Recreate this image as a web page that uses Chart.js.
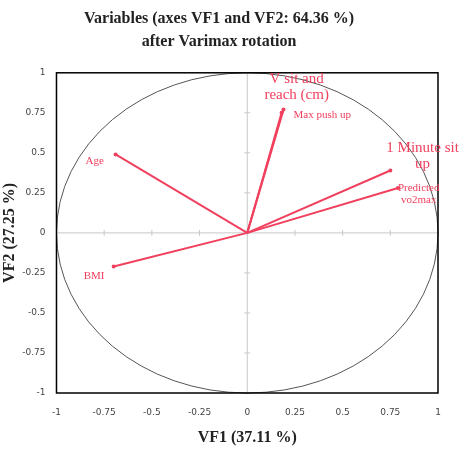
<!DOCTYPE html><html><head><script src="https://cdn.jsdelivr.net/npm/chart.js@4"></script>
<style>body{margin:0;background:#fff}#w{width:474px;height:457px}</style></head><body><div id="w"><canvas id="c"></canvas></div>
<script>
const variables=["Age","BMI","Max push up","V sit and reach (cm)","1 Minute sit up","Predicted vo2max"];
const vf1=[-0.69,-0.70,0.19,0.18,0.75,0.79];
const vf2=[0.49,-0.21,0.77,0.75,0.39,0.28];
const tickVals=[-1,-0.75,-0.5,-0.25,0,0.25,0.5,0.75,1];
const labelDefs=[
 {i:0,lines:["Age"],dx:-30,dy:10,size:11},
 {i:1,lines:["BMI"],dx:-30,dy:12,size:11},
 {i:2,lines:["Max push up"],dx:10,dy:8,size:11},
 {i:3,lines:["V sit and","reach (cm)"],dx:-12,dy:-30,size:15},
 {i:4,lines:["1 Minute sit","up"],dx:-4,dy:-18,size:15},
 {i:5,lines:["Predicted","vo2max"],dx:0,dy:3,size:11}
];
const col='#f0405e';
const datasets=variables.map((v,i)=>({label:v,data:[{x:0,y:0},{x:vf1[i],y:vf2[i]}],showLine:true,borderColor:col,borderWidth:2,pointRadius:[0,2],pointBackgroundColor:col,pointBorderWidth:0}));
const deco={id:'deco',beforeDatasetsDraw(ch){const {ctx,scales:{x,y}}=ch;ctx.save();
 const cx=x.getPixelForValue(0),cy=y.getPixelForValue(0);
 const rx=x.getPixelForValue(1)-cx, ry=cy-y.getPixelForValue(1);
 ctx.strokeStyle='#c8c8c8';ctx.lineWidth=1;ctx.beginPath();ctx.moveTo(x.left,cy);ctx.lineTo(x.right,cy);ctx.moveTo(cx,y.top);ctx.lineTo(cx,y.bottom);ctx.stroke();
 tickVals.forEach(t=>{const px=x.getPixelForValue(t),py=y.getPixelForValue(t);ctx.beginPath();ctx.moveTo(px,cy-3);ctx.lineTo(px,cy+3);ctx.moveTo(cx-3,py);ctx.lineTo(cx+3,py);ctx.stroke();});
 ctx.strokeStyle='#555';ctx.beginPath();ctx.ellipse(cx,cy,rx,ry,0,0,Math.PI*2);ctx.stroke();
 ctx.strokeStyle='#000';ctx.lineWidth=1.5;ctx.strokeRect(x.left,y.top,x.right-x.left,y.bottom-y.top);ctx.restore();},
 afterDatasetsDraw(ch){const {ctx,scales:{x,y}}=ch;ctx.save();ctx.fillStyle=col;ctx.textAlign='left';
 labelDefs.forEach(d=>{const px=x.getPixelForValue(vf1[d.i])+d.dx,py=y.getPixelForValue(vf2[d.i])+d.dy;ctx.font=d.size+'px "Liberation Serif"';
 d.lines.forEach((l,k)=>{const w=ctx.measureText(l).width;let xx=px;if(d.lines.length>1&&k>0){const w0=ctx.measureText(d.lines[0]).width;xx=px+(w0-w)/2;}ctx.fillText(l,xx,py+k*d.size*1.05);});});ctx.restore();}};
new Chart(document.getElementById('c'),{type:'scatter',data:{datasets},plugins:[deco],options:{responsive:true,maintainAspectRatio:false,animation:false,
 layout:{padding:{left:0,right:36,top:0,bottom:6}},
 plugins:{legend:{display:false},tooltip:{enabled:false},title:{display:true,text:['Variables (axes VF1 and VF2: 64.36 %)','after Varimax rotation'],color:'#222',font:{family:'Liberation Serif',size:16,weight:'bold',lineHeight:1.4},padding:{top:8,bottom:20}}},
 scales:{x:{type:'linear',min:-1,max:1,afterBuildTicks:a=>{a.ticks=tickVals.map(v=>({value:v}))},grid:{display:false},border:{display:false},ticks:{color:'#444',font:{family:'DejaVu Sans',size:9},padding:6,callback:v=>String(v)},title:{display:true,text:'VF1 (37.11 %)',color:'#222',font:{family:'Liberation Serif',size:16,weight:'bold'},padding:{top:4}}},
 y:{type:'linear',min:-1,max:1,afterBuildTicks:a=>{a.ticks=tickVals.map(v=>({value:v}))},grid:{display:false},border:{display:false},ticks:{color:'#444',font:{family:'DejaVu Sans',size:9},padding:3,callback:v=>String(v)},title:{display:true,text:'VF2 (27.25 %)',color:'#222',font:{family:'Liberation Serif',size:16,weight:'bold'},padding:{top:0,bottom:0}}}}}});
</script></body></html>
